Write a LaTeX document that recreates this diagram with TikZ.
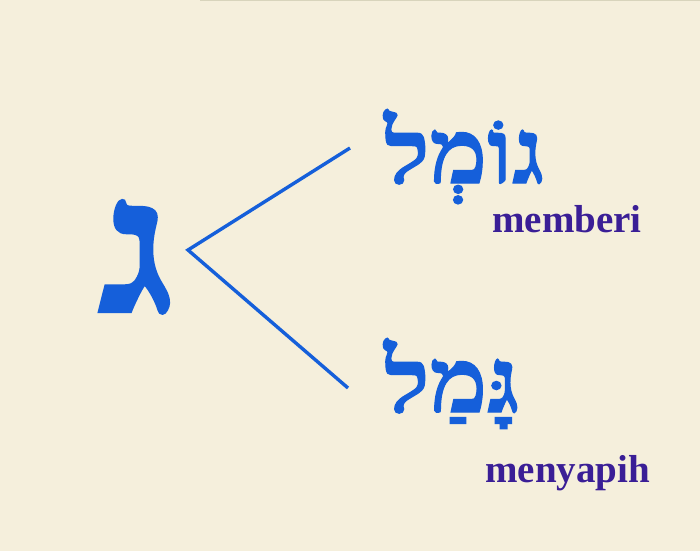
\documentclass[tikz,border=0pt]{standalone}
\usepackage{fontspec}
\setmainfont{Liberation Serif}
\newfontfamily\hebfont[Script=Hebrew, BoldFeatures={FakeBold=1.2}]{Liberation Serif}
\TeXXeTstate=1
\definecolor{bg}{HTML}{F5EFDC}
\definecolor{hblue}{HTML}{155FDA}
\definecolor{lpurple}{HTML}{3A1E96}
\definecolor{topline}{HTML}{D8D4BC}
\tikzset{
  heb/.style={inner sep=0pt, text=hblue, xscale=1.08, font=\hebfont\bfseries\fontsize{90}{90}\selectfont},
  bigheb/.style={inner sep=0pt, text=hblue, xscale=1.24, font=\hebfont\bfseries\fontsize{190}{190}\selectfont},
  gloss/.style={inner sep=0pt, text=lpurple, font=\bfseries\fontsize{39}{39}\selectfont},
  branch/.style={draw=hblue, line width=3.4pt}
}
\begin{document}
\begin{tikzpicture}[x=1pt,y=-1pt]
\useasboundingbox (0,0) rectangle (700,551);
\fill[bg] (0,0) rectangle (700,551);
\draw[topline, line width=1pt] (200,0.5) -- (700,0.5);
\node[bigheb, anchor=base west] (gimel) at (97,312) {\beginR ג\endR};
\coordinate (apex) at (188,250);
\coordinate (upper) at (350,148);
\coordinate (lower) at (348,388);
\draw[branch] (upper) -- (apex) -- (lower);
\node[heb, anchor=base west] (gomel) at (384,183) {\beginR גוֹמְל\endR};
\node[heb, anchor=base west] (gamal) at (384,412) {\beginR גָּמַל\endR};
\node[gloss, anchor=base west] (memberi) at (492,232) {memberi};
\node[gloss, anchor=base west] (menyapih) at (485,482) {menyapih};
\end{tikzpicture}
\end{document}
